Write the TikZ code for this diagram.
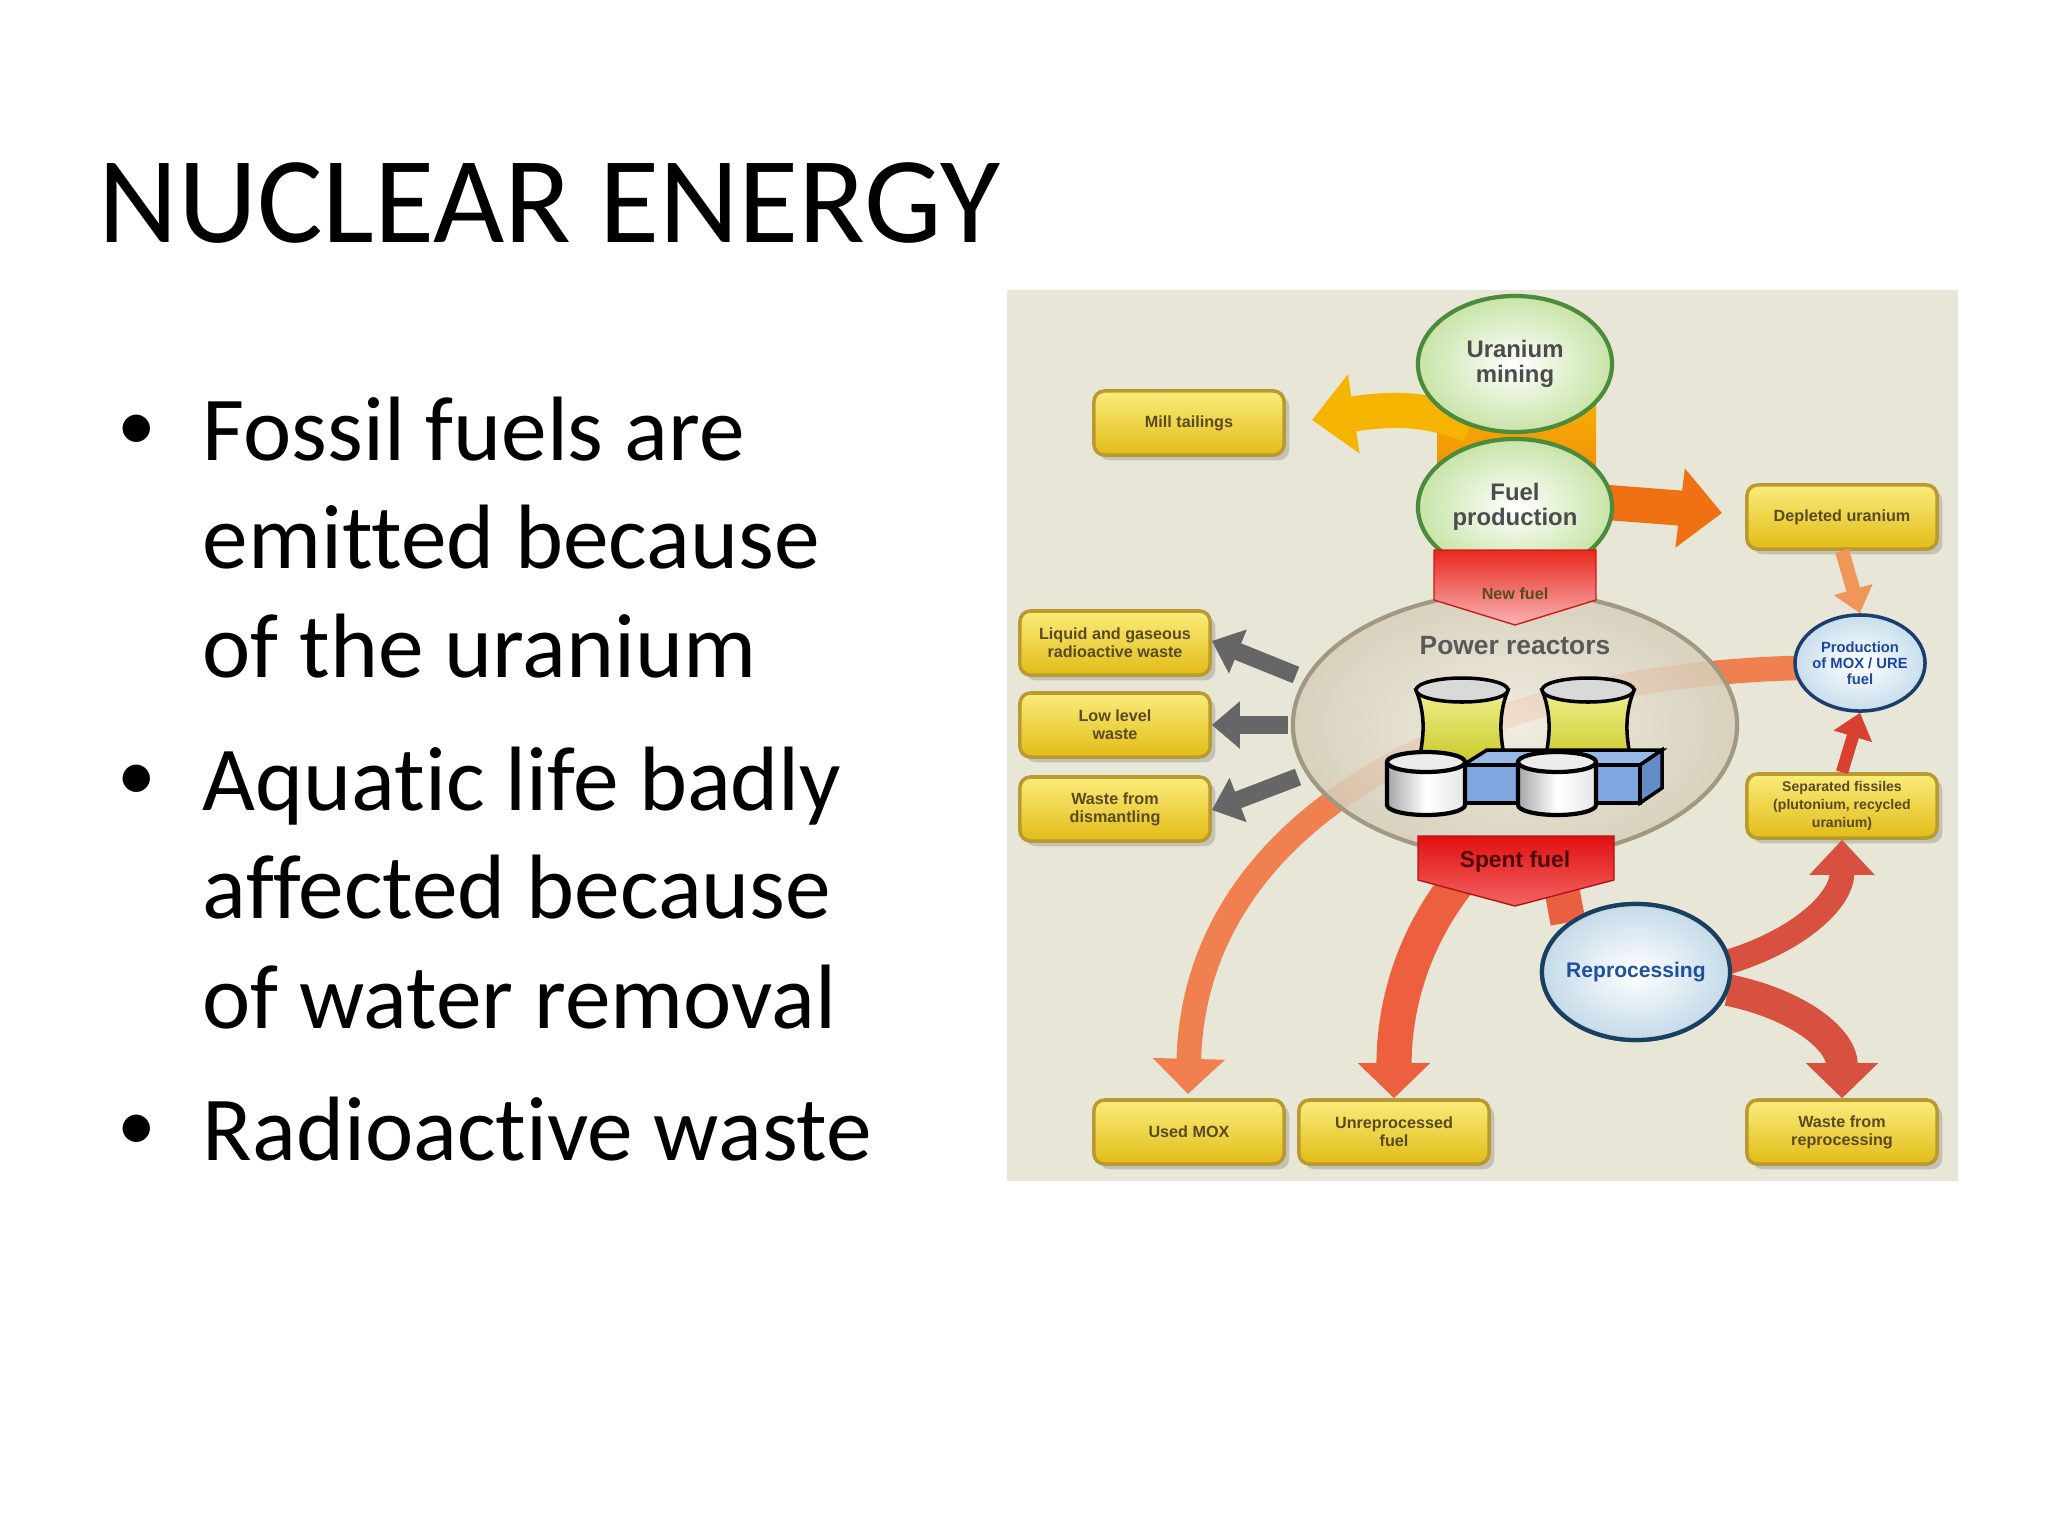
\documentclass[tikz,border=0pt]{standalone}
\usepackage{fontspec}
\setmainfont[Ligatures={NoCommon}]{Carlito}
\newfontfamily\dfont{Liberation Sans}
\usetikzlibrary{shapes.geometric,arrows.meta,shadows}
\definecolor{panel}{HTML}{E8E6D6}
\definecolor{boxtop}{HTML}{FAEC7A}
\definecolor{boxbot}{HTML}{E2BC18}
\definecolor{boxborder}{HTML}{B89A30}
\definecolor{boxtext}{HTML}{5A4A20}
\definecolor{grn}{HTML}{4C8A3C}
\definecolor{grnfill}{HTML}{C8E4A8}
\begin{document}
\begin{tikzpicture}[x=0.01cm,y=-0.01cm,
  box/.style={rounded corners=3pt,draw=boxborder,line width=1pt,top color=boxtop,bottom color=boxbot,
    font=\dfont\bfseries\fontsize{4.6}{5.2}\selectfont,text=boxtext,align=center,
    minimum width=1.9cm,minimum height=0.64cm,inner sep=1pt,
    drop shadow={shadow xshift=1.5pt,shadow yshift=-1.5pt,opacity=0.35}},
  greenc/.style={ellipse,draw=grn,line width=1.2pt,inner color=white,outer color=grnfill,
    minimum width=1.94cm,minimum height=1.36cm,font=\dfont\bfseries\fontsize{6.8}{7}\selectfont,text=black!70,align=center,inner sep=-2pt},
  bullettext/.style={anchor=base west,font=\fontsize{26}{30}\selectfont,inner sep=0pt},
  bulletdot/.style={anchor=base,font=\fontsize{22}{30}\selectfont,inner sep=0pt},
  grey arrow/.style={draw=black!60,line width=5pt,-{Triangle[length=8pt,width=13pt]}},
  flow/.style={line width=#1,-{Triangle[length=10pt,width=20pt]}}
]
\useasboundingbox (0,0) rectangle (2048,1536);
\fill[white] (0,0) rectangle (2048,1536);
% title and bullets
\node[anchor=base west,font=\fontsize{35}{40}\selectfont,inner sep=0pt] (title) at (98,242) {NUCLEAR ENERGY};
\node[bulletdot] (b1) at (137,450) {•};
\node[bullettext] (l1) at (202,460) {Fossil fuels are};
\node[bullettext] (l2) at (202,568) {emitted because};
\node[bullettext] (l3) at (202,677) {of the uranium};
\node[bulletdot] (b2) at (137,800) {•};
\node[bullettext] (l4) at (202,810) {Aquatic life badly};
\node[bullettext] (l5) at (202,918) {affected because};
\node[bullettext] (l6) at (202,1028) {of water removal};
\node[bulletdot] (b3) at (137,1150) {•};
\node[bullettext] (l7) at (202,1160) {Radioactive waste};
% panel
\fill[panel] (1007,290) rectangle (1958,1181);
% MOX line (behind reactor)
\coordinate (moxl) at (1797,668);
\coordinate (umoxt) at (1188,1094);
\draw[draw={rgb,255:red,240;green,128;blue,80},flow=7pt] (moxl) .. controls (1500,675) and (1195,800) .. (umoxt);
% reactor circle
\node[ellipse,draw={rgb,255:red,160;green,152;blue,128},line width=1.2pt,inner color={rgb,255:red,242;green,238;blue,226},
  outer color={rgb,255:red,214;green,206;blue,186},fill opacity=0.85,minimum width=4.44cm,minimum height=2.66cm] (reactor) at (1515,725) {};
\node[font=\dfont\bfseries\fontsize{7.5}{7.5}\selectfont,text=black!65] (prt) at (1515,646) {Power reactors};
% reactor icon: towers
\foreach \cx in {1462,1588}{
  \draw[line width=1pt,top color={rgb,255:red,240;green,240;blue,140},bottom color={rgb,255:red,200;green,200;blue,40}]
    (\cx-46,690) .. controls (\cx-34,720) and (\cx-40,745) .. (\cx-44,765) -- (\cx+44,765) .. controls (\cx+40,745) and (\cx+34,720) .. (\cx+46,690) -- cycle;
  \draw[line width=1pt,fill=black!15] (\cx,690) ellipse [x radius=46,y radius=12];
}
% blue box
\draw[line width=1pt,fill={rgb,255:red,150;green,185;blue,230}] (1463,765) -- (1487,750) -- (1662,750) -- (1640,765) -- cycle;
\draw[line width=1pt,fill={rgb,255:red,128;green,168;blue,224}] (1463,765) rectangle (1640,803);
\draw[line width=1pt,fill={rgb,255:red,100;green,140;blue,200}] (1640,765) -- (1662,750) -- (1662,788) -- (1640,803) -- cycle;
% cylinders
\foreach \cx in {1426,1557}{
  \draw[line width=1.2pt,left color=black!35,right color=black!10,middle color=white]
    (\cx-39,762) -- (\cx-39,805) arc[start angle=180,end angle=360,x radius=39,y radius=-10] -- (\cx+39,762);
  \draw[line width=1.2pt,fill=black!8] (\cx,762) ellipse [x radius=39,y radius=10];
}
% top band
\shade[top color={rgb,255:red,245;green,184;blue,0},bottom color={rgb,255:red,240;green,110;blue,20}] (1437,380) rectangle (1596,550);
\coordinate (bandl) at (1470,425);
\coordinate (bandr) at (1575,500);
% mill and depleted arrows
\node[box] (mill) at (1189,423) {Mill tailings};
\node[box] (depl) at (1842,517) {Depleted uranium};
\draw[draw={rgb,255:red,245;green,180;blue,0},line width=10pt,-{Triangle[length=12pt,width=22pt]}] (bandl) .. controls (1420,405) and (1380,410) .. (1312,420);
\draw[draw={rgb,255:red,240;green,112;blue,20},line width=10pt,-{Triangle[length=12pt,width=22pt]}] (bandr) .. controls (1640,505) and (1680,508) .. (1722,513);
\node[greenc] (umin) at (1515,364) {Uranium\\mining};
\node[greenc] (fuel) at (1515,507) {Fuel\\production};
% new fuel
\shade[top color={rgb,255:red,232;green,40;blue,30},bottom color={rgb,255:red,248;green,180;blue,180},draw={rgb,255:red,200;green,30;blue,20}]
  (1434,550) -- (1596,550) -- (1596,600) -- (1515,625) -- (1434,600) -- cycle;
\node[font=\dfont\bfseries\fontsize{4.6}{5}\selectfont,text=boxtext] (newfuel) at (1515,594) {New fuel};
% left boxes and grey arrows
\node[box] (liq) at (1115,643) {Liquid and gaseous\\radioactive waste};
\node[box] (low) at (1115,725) {Low level\\waste};
\node[box] (dism) at (1115,809) {Waste from\\dismantling};
\coordinate (g1) at (1296,675); \coordinate (g2) at (1288,725); \coordinate (g3) at (1298,777);
\draw[grey arrow] (g1) -- (liq.east |- 0,641) ;
\draw[grey arrow] (g2) -- (low.east);
\draw[grey arrow] (g3) -- (dism.east |- 0,810);
% right side
\node[box] (sep) at (1842,806) {\fontsize{4}{4.6}\selectfont Separated fissiles\\\fontsize{4}{4.6}\selectfont(plutonium, recycled\\\fontsize{4}{4.6}\selectfont uranium)};
\node[ellipse,draw={rgb,255:red,30;green,60;blue,110},line width=1pt,inner color=white,outer color={rgb,255:red,200;green,222;blue,236},
  minimum width=1.3cm,minimum height=0.96cm,inner sep=-2pt,align=center,font=\dfont\bfseries\fontsize{4.2}{4.6}\selectfont,text={rgb,255:red,30;green,70;blue,160}] (mox) at (1860,663) {Production\\of MOX / URE\\fuel};
\draw[draw={rgb,255:red,240;green,150;blue,90},line width=4pt,-{Triangle[length=7pt,width=11pt]}] (depl.south) -- (mox.north);
\draw[draw={rgb,255:red,216;green,64;blue,48},line width=3.5pt,-{Triangle[length=7pt,width=11pt]}] (sep.north) -- (mox.south);
% bottom boxes
\node[box] (umox) at (1189,1132) {Used MOX};
\node[box] (unrep) at (1394,1132) {Unreprocessed\\fuel};
\node[box] (wrep) at (1842,1132) {Waste from\\reprocessing};
% spent fuel flows
\coordinate (sfl) at (1458,882);
\coordinate (sfr) at (1560,880);
\draw[draw={rgb,255:red,236;green,96;blue,64},flow=10pt] (sfl) .. controls (1405,950) and (1394,1020) .. (unrep.north);
\node[ellipse,draw={rgb,255:red,26;green,64;blue,96},line width=1.2pt,inner color=white,outer color={rgb,255:red,196;green,218;blue,232},
  minimum width=1.88cm,minimum height=1.36cm,inner sep=0pt] (repro) at (1636,972) {};
\draw[draw={rgb,255:red,232;green,96;blue,64},line width=10pt] (sfr) -- (repro.north west);
\coordinate (rr1) at (1728,962);
\coordinate (rr2) at (1728,990);
\draw[draw={rgb,255:red,216;green,80;blue,64},line width=7pt,-{Triangle[length=10pt,width=18pt]}] (rr1) .. controls (1800,940) and (1842,900) .. (sep.south);
\draw[draw={rgb,255:red,216;green,80;blue,64},flow=9pt] (rr2) .. controls (1800,1005) and (1842,1040) .. (wrep.north);
\fill[inner color=white,outer color={rgb,255:red,196;green,218;blue,232},draw={rgb,255:red,26;green,64;blue,96},line width=1.2pt] (repro.center) ellipse [x radius=94,y radius=68];
\node[font=\dfont\bfseries\fontsize{6}{6}\selectfont,text={rgb,255:red,32;green,80;blue,160}] (reprotext) at (repro.center) {Reprocessing};
% spent fuel
\shade[top color={rgb,255:red,224;green,16;blue,16},bottom color={rgb,255:red,244;green,100;blue,100},draw={rgb,255:red,180;green,20;blue,20}]
  (1418,836) -- (1614,836) -- (1614,880) -- (1515,906) -- (1418,880) -- cycle;
\node[font=\dfont\bfseries\fontsize{6.5}{6.5}\selectfont,text={rgb,255:red,80;green,10;blue,10}] (spent) at (1515,862) {Spent fuel};
\end{tikzpicture}
\end{document}
